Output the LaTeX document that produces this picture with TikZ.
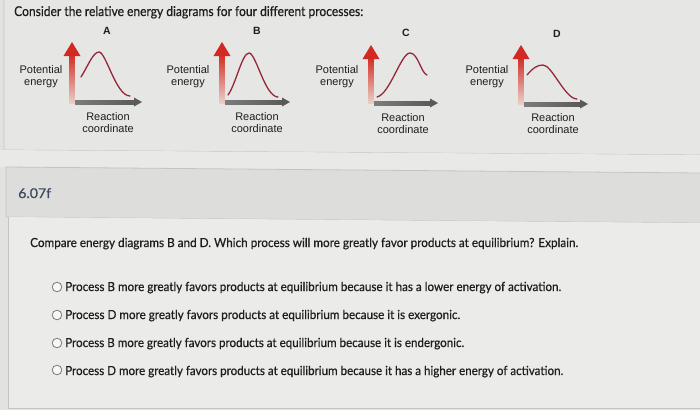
\documentclass[tikz,border=0pt]{standalone}
\usepackage{fontspec}
\setmainfont{Lato}[FakeBold=0.6]
\newfontfamily\arialf{Liberation Sans}
\usepackage{graphicx}
\newlength\fitlen
\newcommand\fitw[2]{\settowidth\fitlen{#2}\pgfmathsetmacro\fitr{#1/\fitlen}\scalebox{\fitr}[1]{#2}}
\definecolor{pagebg}{HTML}{E2E2E0}
\definecolor{topp}{HTML}{E6E6E4}
\definecolor{gapc}{HTML}{E9E9E7}
\definecolor{band}{HTML}{DDDDDB}
\definecolor{lowp}{HTML}{EBEBE9}
\definecolor{lineg}{HTML}{C4C4C2}
\definecolor{txt}{HTML}{1E1E1E}
\definecolor{numc}{HTML}{3E4A5E}
\definecolor{curvec}{HTML}{94283A}
\definecolor{redtop}{HTML}{D22A22}
\definecolor{redbot}{HTML}{EBCFC6}
\definecolor{grayarr}{HTML}{5A5A5A}
\definecolor{grayarrl}{HTML}{7C7C7C}
\definecolor{radioc}{HTML}{7A7A7A}
\tikzset{
  lbl/.style={font=\arialf\fontsize{11}{12}\selectfont, text=txt, align=center, inner sep=0pt},
  letter/.style={font=\arialf\bfseries\fontsize{10.5}{12}\selectfont, text=txt, inner sep=0pt},
  curve/.style={draw=curvec, line width=1.3pt, line cap=round},
  qtext/.style={font=\fontsize{12.5}{14}\selectfont, text=txt, inner sep=0pt, anchor=base west},
  radio/.style={draw=radioc, line width=0.8pt, fill=white!60!lowp},
}
\newcommand\redarr[3]{%
  \shade[bottom color=redbot, top color=redtop] (#1-2.8,#2) rectangle (#1+2.8,#3+12);
  \fill[redtop] (#1,#3) -- (#1-8.5,#3+14) -- (#1+8.5,#3+14) -- cycle;}
\newcommand\grayarr[3]{%
  \shade[left color=grayarrl, right color=grayarr] (#1,#2-2) rectangle (#3-7,#2+2);
  \fill[grayarr] (#3,#2) -- (#3-8,#2-4.5) -- (#3-8,#2+4.5) -- cycle;}
\begin{document}
\begin{tikzpicture}[x=1pt,y=-1pt]
\useasboundingbox (0,0) rectangle (700,410);
% backgrounds
\fill[pagebg] (0,0) rectangle (700,410);
\fill[topp] (4,0) -- (700,0) -- (700,155) -- (4,150) -- cycle;
\draw[lineg, line width=0.8pt] (4,0) -- (4,150) -- (700,155);
\fill[gapc] (0,150) -- (700,155) -- (700,173) -- (0,167) -- cycle;
\fill[band] (6,167) -- (700,173) -- (700,223) -- (6,217) -- cycle;
\draw[lineg, line width=0.8pt] (6,217) -- (6,167) -- (700,173);
\draw[lineg, line width=0.8pt] (6,217) -- (700,223);
\fill[lowp] (8,217) -- (700,223) -- (700,408) -- (8,408) -- cycle;
\draw[lineg, line width=0.8pt] (8,217) -- (8,408) -- (700,408);
% title
\node[qtext, font=\fontsize{13.5}{15}\selectfont] (title) at (14,16) {\fitw{349pt}{Consider the relative energy diagrams for four different processes:}};
% letters
\node[letter] (lA) at (107,31) {A};
\node[letter] (lB) at (257,31) {B};
\node[letter] (lC) at (406,33) {C};
\node[letter] (lD) at (557,34) {D};
% diagram A
\redarr{72}{103}{42}
\grayarr{75}{102}{142}
\draw[curve] (81,77) .. controls (88,66) and (93,52) .. (99,52) .. controls (106,52) and (116,96) .. (130,96);
\node[lbl] (peA) at (41,77) {Potential\\energy};
\node[lbl] (rcA) at (108,123) {Reaction\\coordinate};
% diagram B
\redarr{222}{103}{42}
\grayarr{225}{102}{290}
\draw[curve] (228,95) .. controls (236,84) and (242,53) .. (249,53) .. controls (256,53) and (265,97) .. (278,97);
\node[lbl] (peB) at (188,77) {Potential\\energy};
\node[lbl] (rcB) at (257,123) {Reaction\\coordinate};
% diagram C
\redarr{371}{103}{45}
\grayarr{374}{103}{438}
\draw[curve] (377,97) .. controls (390,94) and (401,53) .. (410,53) .. controls (418,53) and (421,73) .. (427,75);
\node[lbl] (peC) at (337,77) {Potential\\energy};
\node[lbl] (rcC) at (403,124) {Reaction\\coordinate};
% diagram D
\redarr{521}{104}{45}
\grayarr{524}{104}{588}
\draw[curve] (527,75) .. controls (533,68) and (537,65) .. (543,65) .. controls (552,65) and (565,99) .. (577,99);
\node[lbl] (peD) at (487,77) {Potential\\energy};
\node[lbl] (rcD) at (553,124) {Reaction\\coordinate};
% lower part
\node[qtext, font=\fontsize{13.5}{15}\selectfont, text=numc] (num) at (18,198) {\fitw{33pt}{6.07f}};
\node[qtext] (q) at (30,247) {\fitw{548pt}{Compare energy diagrams B and D. Which process will more greatly favor products at equilibrium? Explain.}};
\draw[radio] (57,287) circle (4.8);
\draw[radio] (57,315) circle (4.8);
\draw[radio] (57,343) circle (4.8);
\draw[radio] (57,370) circle (4.8);
\node[qtext] (a1) at (65,291) {\fitw{496pt}{Process B more greatly favors products at equilibrium because it has a lower energy of activation.}};
\node[qtext] (a2) at (65,319) {\fitw{395pt}{Process D more greatly favors products at equilibrium because it is exergonic.}};
\node[qtext] (a3) at (65,347) {\fitw{399pt}{Process B more greatly favors products at equilibrium because it is endergonic.}};
\node[qtext] (a4) at (65,375) {\fitw{498pt}{Process D more greatly favors products at equilibrium because it has a higher energy of activation.}};
\end{tikzpicture}
\end{document}
